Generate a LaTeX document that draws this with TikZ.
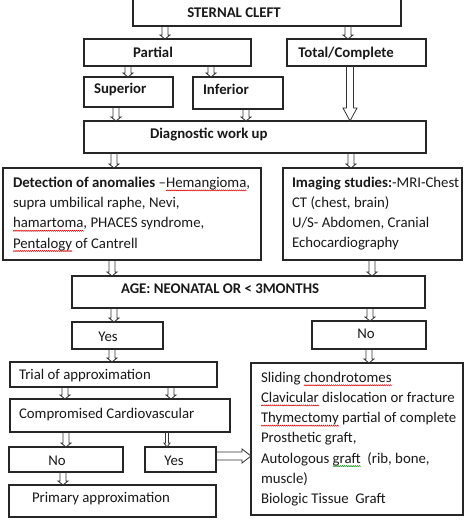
\documentclass[tikz,border=0pt]{standalone}
\usepackage{fontspec}
\setmainfont{Carlito}
\usetikzlibrary{calc}
\newsavebox\rwbox
\newsavebox\gwbox
\newcommand\wavedunder[2]{\leavevmode\setbox0\hbox{#2}\rlap{\raisebox{-3.6bp}{\hbox to \wd0{\xleaders\copy#1\hfil}}}\box0\relax}
\newcommand\rwave[1]{\wavedunder\rwbox{#1}}
\newcommand\gwave[1]{\wavedunder\gwbox{#1}}
\newcommand\makewave[2]{%
  \sbox#1{\begin{pgfpicture}%
    \pgfpathmoveto{\pgfqpoint{0bp}{0bp}}%
    \pgfpathlineto{\pgfqpoint{1bp}{1.2bp}}%
    \pgfpathlineto{\pgfqpoint{2bp}{0bp}}%
    \pgfsetlinewidth{0.5bp}\pgfsetstrokecolor{#2}%
    \pgfusepath{stroke}%
    \pgfresetboundingbox
    \pgfpathrectangle{\pgfpointorigin}{\pgfqpoint{2bp}{1.2bp}}%
    \pgfusepath{use as bounding box}%
  \end{pgfpicture}}}
\tikzset{
  bx/.style={draw=black!85, line width=1.1bp, inner sep=0pt, outer sep=0pt, anchor=north west},
  txt/.style={inner sep=0pt, outer sep=0pt, text=black!90, font=\fontsize{14.8bp}{20.2bp}\selectfont},
  btxt/.style={txt, font=\fontsize{14.8bp}{20.2bp}\selectfont\bfseries},
  barrow/.style={draw=black!80, line width=0.8bp, line join=miter},
}
\newcommand\bx[5]{\node[bx, minimum width={(#4-#2)*1bp}, minimum height={(#5-#3)*1bp}] (#1) at (#2,#3) {};}
% vertical block arrow: x, from node, to node, shaft half width, head half width, head length
\newcommand\arrV[6]{%
  \draw[barrow] let \p1=(#2.south), \p2=(#3.north) in
    ({(#1-#4)*1bp},\y1) -- ({(#1-#4)*1bp},{\y2+#6bp}) -- ({(#1-#5)*1bp},{\y2+#6bp})
    -- ({#1*1bp},\y2) -- ({(#1+#5)*1bp},{\y2+#6bp}) -- ({(#1+#4)*1bp},{\y2+#6bp})
    -- ({(#1+#4)*1bp},\y1);}
% horizontal block arrow: y, from node, to node, shaft half width, head half width, head length
\newcommand\arrH[6]{%
  \draw[barrow] let \p1=(#2.east), \p2=(#3.west) in
    (\x1,{-(#1-#4)*1bp}) -- ({\x2-#6bp},{-(#1-#4)*1bp}) -- ({\x2-#6bp},{-(#1-#5)*1bp})
    -- (\x2,{-#1*1bp}) -- ({\x2-#6bp},{-(#1+#5)*1bp}) -- ({\x2-#6bp},{-(#1+#4)*1bp})
    -- (\x1,{-(#1+#4)*1bp});}
\begin{document}
\makewave\rwbox{red!85!black}%
\makewave\gwbox{green!55!black}%
\begin{tikzpicture}[x=1bp,y=-1bp]
\useasboundingbox[fill=white] (0,0) rectangle (474,520);
% boxes
\bx{sc}{133}{-6}{401}{26}
\bx{partial}{84}{39}{251}{66}
\bx{total}{287}{39}{426}{66}
\bx{superior}{84}{77}{173}{107}
\bx{inferior}{193}{77}{283}{109}
\bx{diag}{84}{121}{426}{153}
\bx{detect}{3}{168}{261}{260}
\bx{imaging}{283}{168}{462}{260}
\bx{age}{72}{276}{425}{308}
\bx{yesa}{72}{322}{163}{349}
\bx{noa}{312}{321}{426}{349}
\bx{trial}{10}{362}{217}{387}
\bx{comp}{10}{399}{230}{432}
\bx{nob}{9}{447}{123}{472}
\bx{yesb}{145}{447}{216}{472}
\bx{primary}{9}{485}{216}{517}
\bx{options}{251}{363}{463}{515}
% texts
\node[btxt, anchor=mid] (tsc) at (234,15.5) {STERNAL CLEFT};
\node[btxt, anchor=mid] (tpartial) at (153,55.5) {Partial};
\node[btxt, anchor=mid] (ttotal) at (346,55.5) {Total/Complete};
\node[btxt, anchor=mid west] (tsuperior) at (94,91.5) {Superior};
\node[btxt, anchor=mid west] (tinferior) at (203,92.5) {Inferior};
\node[btxt, anchor=mid west] (tdiag) at (150,136.5) {Diagnostic work up};
\node[txt, anchor=north west, align=left] (tdetect) at (13,177)
  {\textbf{Detection of anomalies} –\rwave{Hemangioma},\\supra umbilical raphe, Nevi,\\\rwave{hamartoma}, PHACES syndrome,\\\rwave{Pentalogy} of Cantrell};
\node[txt, anchor=north west, align=left] (timaging) at (292,177)
  {\textbf{Imaging studies:}-MRI-Chest\\CT (chest, brain)\\U/S- Abdomen, Cranial\\Echocardiography};
\node[btxt, anchor=mid west] (tage) at (121,291.5) {AGE: NEONATAL OR < 3MONTHS};
\node[txt, anchor=mid] (tyesa) at (108,339.5) {Yes};
\node[txt, anchor=mid] (tnoa) at (366,336.5) {No};
\node[txt, anchor=mid west] (ttrial) at (19,377.5) {Trial of approximation};
\node[txt, anchor=mid west] (tcomp) at (19,416.5) {Compromised Cardiovascular};
\node[txt, anchor=mid] (tnob) at (57,463.5) {No};
\node[txt, anchor=mid] (tyesb) at (174,463.5) {Yes};
\node[txt, anchor=mid west] (tprimary) at (32,500.5) {Primary approximation};
\node[txt, anchor=north west, align=left] (toptions) at (261,372)
  {Sliding \rwave{chondrotomes}\\\rwave{Clavicular} dislocation or fracture\\\rwave{Thymectomy} partial of complete\\Prosthetic graft,\\Autologous \gwave{graft}~ (rib, bone,\\muscle)\\Biologic Tissue~ Graft};
% arrows
\arrV{165}{sc}{partial}{3}{5}{4}
\arrV{348}{sc}{total}{3}{5}{4}
\arrV{128}{partial}{superior}{3}{5}{4}
\arrV{211}{partial}{inferior}{3}{5}{4}
\arrV{116}{superior}{diag}{3}{5}{4}
\arrV{246}{inferior}{diag}{3}{5}{4}
\arrV{350}{total}{diag}{3.5}{7}{13}
\arrV{114}{diag}{detect}{3}{5}{4}
\arrV{351}{diag}{imaging}{3}{5}{4}
\arrV{112}{detect}{age}{3}{5}{4}
\arrV{372}{imaging}{age}{3}{5}{4}
\arrV{114}{age}{yesa}{3}{5}{4}
\arrV{370}{age}{noa}{3}{5}{4}
\arrV{112}{yesa}{trial}{3}{5}{4}
\arrV{369}{noa}{options}{3}{5}{4}
\arrV{65}{trial}{comp}{3}{5}{4}
\arrV{171}{trial}{comp}{3}{5}{4}
\arrV{66}{comp}{nob}{3}{5}{4}
\arrV{167}{comp}{yesb}{1.5}{3}{4}
\arrV{63}{nob}{primary}{3}{5}{4}
\arrH{456}{yesb}{options}{4}{7}{9}
\end{tikzpicture}
\end{document}
